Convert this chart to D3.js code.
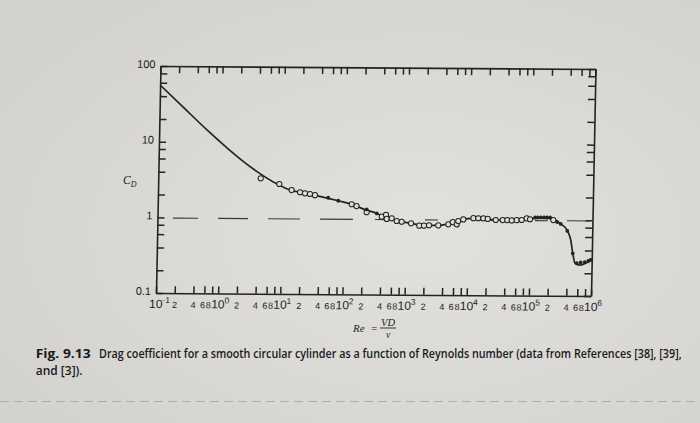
<!DOCTYPE html>
<html><head><meta charset="utf-8">
<script src="https://cdn.jsdelivr.net/npm/d3@7/dist/d3.min.js"></script>
<style>body{margin:0;background:#dcdbd8;}svg{display:block}</style>
</head><body>
<svg id="chart" width="700" height="423"></svg>
<script>
// ---- data ----
const curveRe = [0.1, 0.251, 0.631, 1.26, 2.24, 3.98, 7.94, 14.1, 19.5, 34, 80, 132, 229, 339, 430, 590, 850, 1230, 1700, 3300, 4800, 6500, 8300, 12000, 29000, 68000, 143000, 208000, 302000, 400000, 453000, 493000, 540000, 652000, 832000, 1000000];
const curveCd = [56.1, 27.6, 13.7, 8.34, 5.68, 4.04, 2.86, 2.32, 2.21, 2.02, 1.72, 1.55, 1.30, 1.18, 1.07, 0.99, 0.92, 0.88, 0.83, 0.83, 0.87, 0.93, 1.0, 1.035, 0.99, 0.995, 1.06, 1.05, 0.905, 0.72, 0.547, 0.365, 0.27, 0.256, 0.275, 0.30];

const openRe = [4.45, 8.9, 14.1, 19.3, 23.2, 27.9, 33.6, 132, 158, 231, 405, 474, 488, 587, 708, 852, 1205, 1640, 1950, 2350, 3310, 4800, 5640, 6560, 6920, 8330, 12100, 14500, 17500, 20600, 27700, 35900, 42600, 50200, 60300, 72600, 87300, 98800, 234000];
const openCd = [3.35, 2.83, 2.36, 2.21, 2.14, 2.10, 2.03, 1.55, 1.47, 1.22, 1.07, 1.13, 1.0, 1.02, 0.94, 0.92, 0.88, 0.82, 0.82, 0.83, 0.83, 0.86, 0.92, 0.86, 0.95, 1.0, 1.04, 1.04, 1.04, 1.02, 0.99, 0.99, 0.99, 0.98, 0.99, 0.995, 1.05, 1.02, 1.0];

const filledRe = [55, 80, 231, 336, 119000, 132000, 148000, 166000, 185000, 207000, 271000, 309000, 396000, 493000, 575000, 665000, 773000, 880000, 960000];
const filledCd = [1.88, 1.72, 1.33, 1.18, 1.08, 1.08, 1.08, 1.08, 1.08, 1.08, 0.94, 0.89, 0.72, 0.365, 0.27, 0.277, 0.28, 0.29, 0.30];

const dashFromRe = [0.178, 0.942, 6.0, 41.2, 316, 2020, 13800, 119000, 389000];
const dashToRe   = [0.449, 2.86, 19.6, 140, 493, 3270, 30200, 192000, 912000];
const dashCd = 0.98;

const xDecades = [-1, 0, 1, 2, 3, 4, 5, 6];
const minorMults = [2, 4, 6, 8];
const yDecades = [-1, 0, 1, 2];
const yTickLabels = ["0.1", "1", "10", "100"];

// ---- layout ----
const svg = d3.select("#chart");
const defs = svg.append("defs");
const rg = defs.append("radialGradient").attr("id", "paper")
  .attr("cx", "0.6").attr("cy", "0.55").attr("r", "0.75");
rg.append("stop").attr("offset", "0").attr("stop-color", "#e2e1de");
rg.append("stop").attr("offset", "1").attr("stop-color", "#d2d1ce");
svg.append("rect").attr("width", 700).attr("height", 423).attr("fill", "url(#paper)");

const W = 435, H = 227;
const ink = "#232323";
const x = d3.scaleLog().domain([0.1, 1e6]).range([0, W]);
const y = d3.scaleLog().domain([0.1, 100]).range([H, 0]);

const g = svg.append("g").attr("transform", "matrix(1,0.0069,-0.0198,1,160.5,66)");

const xTicks = [];
xDecades.forEach(e => {
  xTicks.push(Math.pow(10, e));
  if (e < 6) minorMults.forEach(m => xTicks.push(m * Math.pow(10, e)));
});
const yTicks = [];
yDecades.forEach(e => {
  yTicks.push(Math.pow(10, e));
  if (e < 2) minorMults.forEach(m => yTicks.push(m * Math.pow(10, e)));
});

function styleAxis(sel) {
  sel.selectAll("path.domain").attr("stroke", ink).attr("stroke-width", 1.6);
  sel.selectAll(".tick line").attr("stroke", ink).attr("stroke-width", 1.5);
  sel.selectAll(".tick text").remove();
}
g.append("g").attr("transform", `translate(0,${H})`)
  .call(d3.axisBottom(x).tickValues(xTicks).tickSize(-7).tickSizeOuter(0).tickFormat("")).call(styleAxis);
g.append("g")
  .call(d3.axisTop(x).tickValues(xTicks).tickSize(-7).tickSizeOuter(0).tickFormat("")).call(styleAxis);
g.append("g")
  .call(d3.axisLeft(y).tickValues(yTicks).tickSize(-7).tickSizeOuter(0).tickFormat("")).call(styleAxis);
g.append("g").attr("transform", `translate(${W},0)`)
  .call(d3.axisRight(y).tickValues(yTicks).tickSize(-7).tickSizeOuter(0).tickFormat("")).call(styleAxis);

// y tick labels
g.selectAll("text.ylab").data(yDecades).join("text").attr("class", "ylab")
  .attr("x", -5).attr("y", d => y(Math.pow(10, d)) + 2)
  .attr("text-anchor", "end").attr("font-family", "Liberation Sans, Arial, sans-serif")
  .attr("font-size", 11).attr("fill", ink).text((d, i) => yTickLabels[i]);

// x tick labels
const lab = g.append("g").attr("font-family", "Liberation Sans, Arial, sans-serif").attr("fill", ink);
lab.selectAll("text.dec").data(xDecades).join("text").attr("class", "dec")
  .attr("x", d => x(Math.pow(10, d))).attr("y", H + 15)
  .attr("text-anchor", "middle").attr("font-size", 12).text("10");
lab.selectAll("text.exp").data(xDecades).join("text").attr("class", "exp")
  .attr("x", d => x(Math.pow(10, d)) + 6.5).attr("y", H + 10)
  .attr("font-size", 8.5).text(d => String(d));
const minorLabs = [];
xDecades.filter(e => e < 6).forEach(e => minorMults.forEach(m => minorLabs.push({ m, v: m * Math.pow(10, e) })));
const mOff = { 2: 0, 4: 0, 6: -1.5, 8: -3.5 };
lab.selectAll("text.min").data(minorLabs).join("text").attr("class", "min")
  .attr("x", d => x(d.v) + mOff[d.m]).attr("y", H + 15)
  .attr("text-anchor", "middle").attr("font-size", 9).text(d => d.m);

// dashed reference segments
g.selectAll("line.dash").data(dashFromRe).join("line").attr("class", "dash")
  .attr("x1", d => x(d)).attr("x2", (d, i) => x(dashToRe[i]))
  .attr("y1", y(dashCd)).attr("y2", y(dashCd))
  .attr("stroke", "#3a3a3a").attr("stroke-width", 1.1);

// curve
const line = d3.line().x(d => x(d[0])).y(d => y(d[1])).curve(d3.curveMonotoneX);
g.append("path").datum(curveRe.map((r, i) => [r, curveCd[i]]))
  .attr("d", line).attr("fill", "none").attr("stroke", ink).attr("stroke-width", 1.7);

// markers
g.selectAll("circle.open").data(openRe).join("circle").attr("class", "open")
  .attr("cx", d => x(d)).attr("cy", (d, i) => y(openCd[i])).attr("r", 2.6)
  .attr("fill", "#e0dfdc").attr("stroke", ink).attr("stroke-width", 1);
g.selectAll("circle.fill").data(filledRe).join("circle").attr("class", "fill")
  .attr("cx", d => x(d)).attr("cy", (d, i) => y(filledCd[i])).attr("r", 1.9)
  .attr("fill", ink);

// axis titles
const ser = "Liberation Serif, Times New Roman, serif";
const cd = svg.append("text").attr("x", 123).attr("y", 184)
  .attr("font-family", ser).attr("font-style", "italic")
  .attr("font-size", 11.5).attr("fill", ink);
cd.append("tspan").text("C");
cd.append("tspan").attr("font-size", 8).attr("dy", 2.5).text("D");

svg.append("text").attr("x", 353).attr("y", 332).attr("font-family", ser).attr("font-style", "italic")
  .attr("font-size", 11).attr("fill", ink).text("Re");
svg.append("text").attr("x", 371).attr("y", 331.5).attr("font-family", ser)
  .attr("font-size", 11).attr("fill", ink).text("=");
svg.append("text").attr("x", 388).attr("y", 325.5).attr("text-anchor", "middle").attr("font-family", ser).attr("font-style", "italic")
  .attr("font-size", 10.5).attr("fill", ink).text("VD");
svg.append("line").attr("x1", 380).attr("x2", 396).attr("y1", 328).attr("y2", 328).attr("stroke", ink).attr("stroke-width", 0.9);
svg.append("text").attr("x", 388).attr("y", 338).attr("text-anchor", "middle").attr("font-family", ser).attr("font-style", "italic")
  .attr("font-size", 9.5).attr("fill", ink).text("ν");

// caption: each piece horizontally scaled to its measured width in the reference
const cap = "Open Sans, Noto Sans, sans-serif";
function fitText(txt, x0, y0, width, bold) {
  const t = svg.append("text").attr("x", 0).attr("y", 0).attr("font-family", cap)
    .attr("font-weight", bold ? "bold" : "600").attr("font-size", 12.8).attr("fill", "#1a1a1a").text(txt);
  const w = t.node().getComputedTextLength();
  t.attr("transform", `translate(${x0},${y0}) scale(${width / w},1)`);
}
fitText("Fig. 9.13", 35.7, 358.3, 55, true);
fitText("Drag coefficient for a smooth circular cylinder as a function of Reynolds number (data from References [38], [39],", 99, 358.3, 583, false);
fitText("and [3]).", 35.7, 375, 47, false);

// page rule
svg.append("line").attr("x1", 0).attr("x2", 700).attr("y1", 401.5).attr("y2", 401.5)
  .attr("stroke", "#a3a3a0").attr("stroke-width", 0.8).attr("stroke-dasharray", "9 5");
</script>
</body></html>
